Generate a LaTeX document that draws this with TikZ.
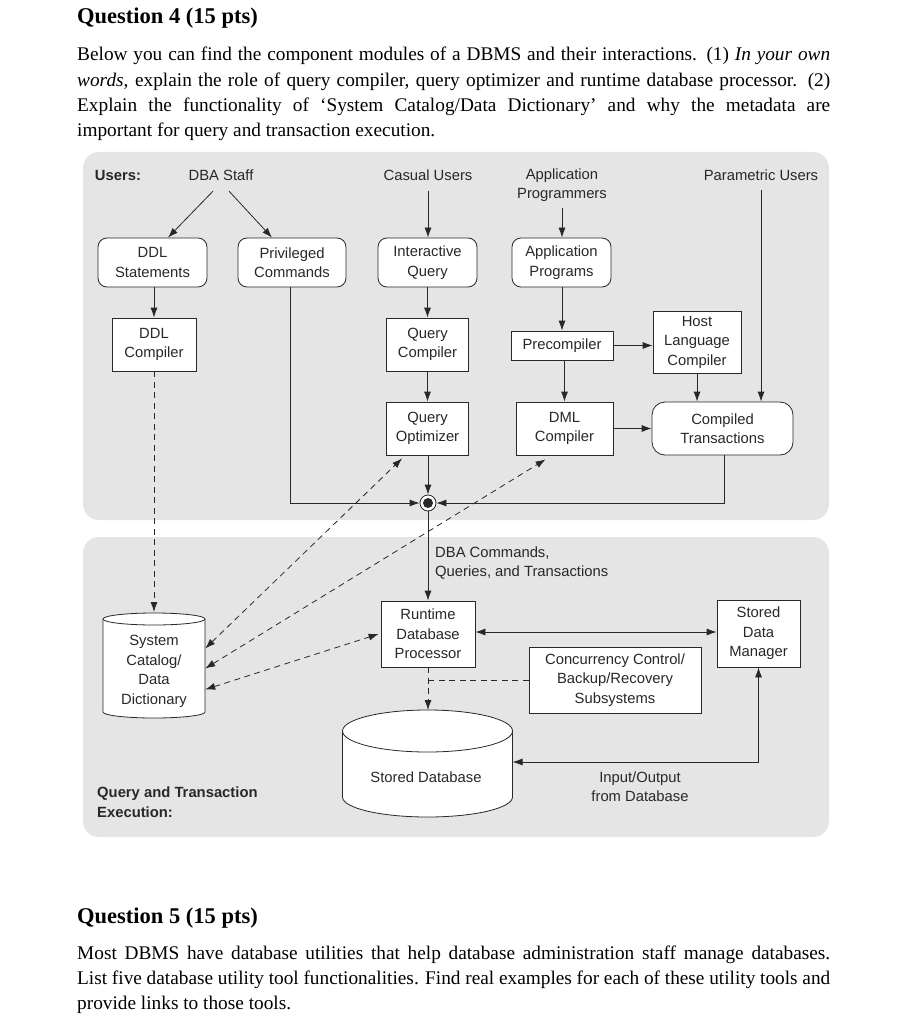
\documentclass[tikz,border=0pt]{standalone}
\usepackage{fontspec}
\setmainfont{Liberation Serif}
\newfontfamily\dsans{Liberation Sans}
\usetikzlibrary{arrows.meta,calc}
\definecolor{panel}{RGB}{229,229,229}
\definecolor{ink}{RGB}{40,40,40}
\begin{document}
\begin{tikzpicture}[x=1pt,y=-1pt,
  txt/.style={font=\fontsize{19.3}{25}\selectfont, anchor=base west, inner sep=0pt},
  head/.style={font=\bfseries\fontsize{22.5}{27}\selectfont, anchor=base west, inner sep=0pt},
  lbl/.style={font=\dsans\fontsize{14.8}{19.5}\selectfont, align=center, text=ink, inner sep=0pt},
  blbl/.style={lbl, font=\dsans\bfseries\fontsize{14.8}{19.5}\selectfont},
  rbox/.style={lbl, draw=ink, fill=white, rounded corners=9pt, line width=0.8pt},
  sbox/.style={lbl, draw=ink, fill=white, line width=0.8pt},
  arr/.style={draw=ink, line width=0.8pt, -{Latex[length=10pt,width=7pt]}},
  barr/.style={draw=ink, line width=0.8pt, {Latex[length=10pt,width=7pt]}-{Latex[length=10pt,width=7pt]}},
  dline/.style={draw=ink, line width=0.9pt, dash pattern=on 6pt off 4.5pt},
  cyl/.style={fill=white, draw=ink, line width=0.8pt}
]
\path[use as bounding box] (0,0) rectangle (906,1024);
\fill[white] (0,0) rectangle (906,1024);

% question texts
\node[head] (q4) at (77,24) {Question 4 (15 pts)};
\node[txt] (q4a) at (77,60.5) {\makebox[753pt][s]{Below you can find the component modules of a DBMS and their interactions. (1) \textit{In your own}}};
\node[txt] (q4b) at (77,86.5) {\makebox[753pt][s]{\textit{words}, explain the role of query compiler, query optimizer and runtime database processor. (2)}};
\node[txt] (q4c) at (77,111.5) {\makebox[753pt][s]{Explain the functionality of ‘System Catalog/Data Dictionary’ and why the metadata are}};
\node[txt] (q4d) at (77,136.5) {important for query and transaction execution.};
\node[head] (q5) at (77,923) {Question 5 (15 pts)};
\node[txt] (q5a) at (77,959.5) {\makebox[753pt][s]{Most DBMS have database utilities that help database administration staff manage databases.}};
\node[txt] (q5b) at (77,984.5) {\makebox[753pt][s]{List five database utility tool functionalities. Find real examples for each of these utility tools and}};
\node[txt] (q5c) at (77,1009.5) {provide links to those tools.};

% panels
\fill[panel, rounded corners=16pt] (83,152) rectangle (829,520);
\fill[panel, rounded corners=16pt] (83,537) rectangle (829,837);

% users
\node[blbl] (users) at (118,175) {Users:};
\node[lbl] (dba) at (221,175) {DBA Staff};
\node[lbl] (casual) at (428,175) {Casual Users};
\node[lbl] (appprog) at (562,185) {Application\\Programmers};
\node[lbl] (param) at (761,175) {Parametric Users};

% upper boxes
\node[rbox, minimum width=109pt, minimum height=49pt] (ddls) at (152.5,262.5) {DDL\\Statements};
\node[rbox, minimum width=108pt, minimum height=49pt] (priv) at (292,262.5) {Privileged\\Commands};
\node[rbox, minimum width=99pt, minimum height=49pt] (iq) at (427.5,262.5) {Interactive\\Query};
\node[rbox, minimum width=99pt, minimum height=49pt] (ap) at (561.5,262.5) {Application\\Programs};
\node[sbox, minimum width=84pt, minimum height=53pt] (ddlc) at (154,344.5) {DDL\\Compiler};
\node[sbox, minimum width=82pt, minimum height=53pt] (qc) at (427.5,344.5) {Query\\Compiler};
\node[sbox, minimum width=102pt, minimum height=29pt] (pre) at (562,345.5) {Precompiler};
\node[sbox, minimum width=88pt, minimum height=62pt] (hlc) at (697,342) {Host\\Language\\Compiler};
\node[sbox, minimum width=82pt, minimum height=53pt] (qo) at (427.5,428.5) {Query\\Optimizer};
\node[sbox, minimum width=97pt, minimum height=53pt] (dml) at (564.5,428.5) {DML\\Compiler};
\node[rbox, rounded corners=13pt, minimum width=141pt, minimum height=53pt] (ct) at (722.5,428.5) {Compiled\\Transactions};
\node[circle, draw=ink, fill=white, line width=0.8pt, minimum size=16pt, inner sep=0pt] (j) at (428,503) {};
\fill[ink] (j.center) circle[radius=5pt];

% lower boxes
\node[sbox, minimum width=94pt, minimum height=66pt] (rdp) at (428,634) {Runtime\\Database\\Processor};
\node[sbox, minimum width=83pt, minimum height=67pt] (sdm) at (758.5,633.5) {Stored\\Data\\Manager};
\node[sbox, minimum width=172pt, minimum height=66pt] (cc) at (615,680) {Concurrency Control/\\Backup/Recovery\\Subsystems};

% system catalog cylinder
\filldraw[cyl] (103,619) -- (103,712) arc[start angle=180,end angle=360,x radius=51pt,y radius=6pt] -- (205,619) arc[start angle=0,end angle=180,x radius=51pt,y radius=6pt] -- cycle;
\draw[cyl, fill=none] (103,619) arc[start angle=180,end angle=360,x radius=51pt,y radius=6pt];
\node[lbl, minimum width=102pt] (cat) at (154,671.5) {System\\Catalog/\\Data\\Dictionary};
\coordinate (cattop) at (154,612);

% stored database cylinder
\filldraw[cyl] (342.5,731) -- (342.5,797) arc[start angle=180,end angle=360,x radius=85pt,y radius=20pt] -- (512.5,731) arc[start angle=0,end angle=180,x radius=85pt,y radius=21pt] -- cycle;
\draw[cyl, fill=none] (342.5,731) arc[start angle=180,end angle=360,x radius=85pt,y radius=21pt];
\node[lbl] (sdb) at (426,777) {Stored Database};
\coordinate (dbtop) at (428,710);
\coordinate (dbR) at (512.5,762);

% labels
\node[lbl, align=left, anchor=west] (dbacmd) at (435,563) {DBA Commands,\\Queries, and Transactions};
\node[lbl] (io) at (640,786.5) {Input/Output\\from Database};
\node[blbl, align=left, anchor=west] (qte) at (97,802) {Query and Transaction\\Execution:};

% connectors
\draw[arr] ([xshift=-8pt,yshift=-10.5pt]dba.south) -- ([xshift=15.5pt]ddls.north);
\draw[arr] ([xshift=8pt,yshift=-10.5pt]dba.south) -- ([xshift=-20pt]priv.north);
\draw[arr, shorten <=10pt] (casual.south) -- (casual.south |- iq.north);
\draw[arr, shorten <=6pt] (appprog.south) -- (appprog.south |- ap.north);
\draw[arr, shorten <=9pt] (param.south) -- (param.south |- ct.north);
\draw[arr] (ddls.south -| ddlc.north) -- (ddlc.north);
\draw[arr] (iq.south -| qc.north) -- (qc.north);
\draw[arr] (qc.south) -- (qo.north);
\draw[arr] (ap.south -| pre.north) -- (pre.north);
\draw[arr] (pre.south -| dml.north) -- (dml.north);
\draw[arr] (pre.east) -- (pre.east -| hlc.west);
\draw[arr] (hlc.south) -- (hlc.south |- ct.north);
\draw[arr] (dml.east) -- (dml.east -| ct.west);
\draw[arr] (qo.south -| j.north) -- (j.north);
\draw[arr] ([xshift=-2pt]priv.south) |- (j.west);
\draw[arr] ([xshift=1.5pt]ct.south) |- (j.east);
\draw[arr] (j.south) -- (rdp.north);
\draw[barr] ([yshift=2pt]rdp.east) -- ([yshift=2pt]rdp.east -| sdm.west);
\draw[barr] (dbR) -| (sdm.south);
\draw[dline, arr] (ddlc.south) -- (ddlc.south |- cattop);
\draw[dline, barr] ([yshift=23pt]cat.east) -- ([xshift=16pt,yshift=-3pt]qo.south west);
\draw[dline, barr] ([yshift=3pt]cat.east) -- ([xshift=30pt,yshift=-4pt]dml.south west);
\draw[dline, barr] ([yshift=-18pt]cat.east) -- ([xshift=-2pt]rdp.west);
\draw[dline, arr] (rdp.south) -- (rdp.south |- dbtop);
\draw[dline] (cc.west) -- (cc.west -| rdp.south);
\end{tikzpicture}
\end{document}
